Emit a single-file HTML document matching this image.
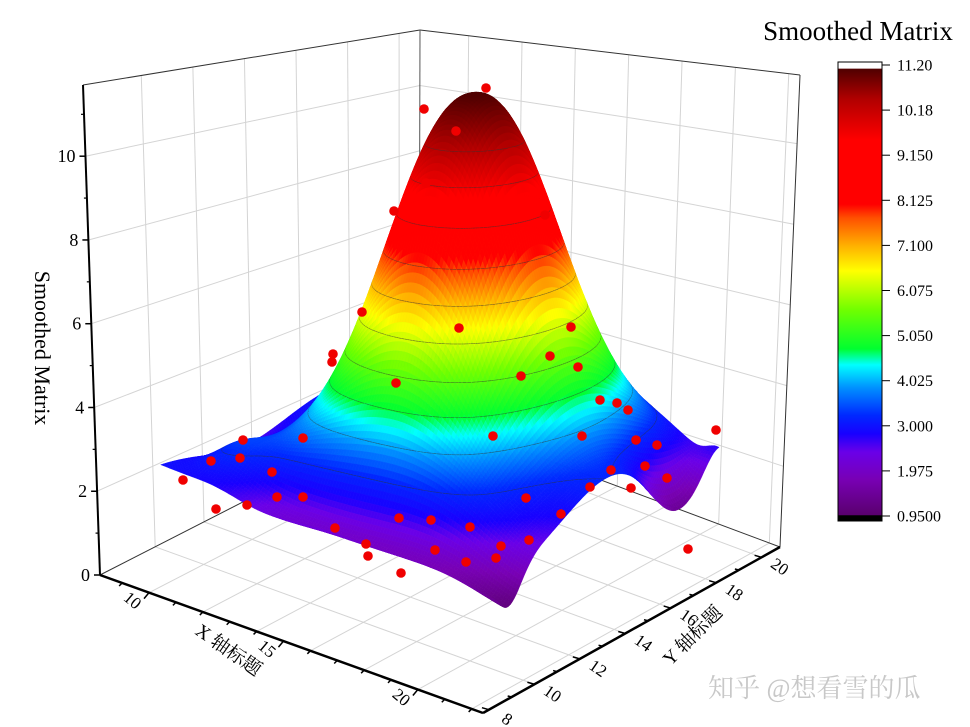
<!DOCTYPE html>
<html><head><meta charset="utf-8">
<style>
html,body{margin:0;padding:0;background:#fff;}
#c{position:relative;width:970px;height:727px;overflow:hidden;font-family:"Liberation Serif","Noto Serif CJK SC",serif;}
svg text{font-family:"Liberation Serif","Noto Serif CJK SC",serif;}
</style></head><body>
<div id="c">
<svg id="s" width="970" height="727" viewBox="0 0 970 727" xmlns="http://www.w3.org/2000/svg">
<defs>
<linearGradient id="cb" x1="0" y1="1" x2="0" y2="0">
<stop offset="0" stop-color="#000000"/>
<stop offset="0.012" stop-color="#000000"/>
<stop offset="0.013" stop-color="#5a006e"/>
<stop offset="0.09" stop-color="#7800b4"/>
<stop offset="0.15" stop-color="#6a00e8"/>
<stop offset="0.19" stop-color="#1800ff"/>
<stop offset="0.23" stop-color="#0028ff"/>
<stop offset="0.29" stop-color="#0090ff"/>
<stop offset="0.34" stop-color="#00ffff"/>
<stop offset="0.375" stop-color="#00ff30"/>
<stop offset="0.46" stop-color="#70ff00"/>
<stop offset="0.545" stop-color="#ffff00"/>
<stop offset="0.6" stop-color="#ffb000"/>
<stop offset="0.66" stop-color="#ff5000"/>
<stop offset="0.69" stop-color="#ff0000"/>
<stop offset="0.83" stop-color="#ff0000"/>
<stop offset="0.92" stop-color="#b00000"/>
<stop offset="0.985" stop-color="#500000"/>
<stop offset="0.986" stop-color="#ffffff"/>
<stop offset="1" stop-color="#ffffff"/>
</linearGradient>
</defs>
<g id="grid"></g>
<g id="surf"></g>
<g id="dots"></g>
<g id="axes"></g>
<rect x="838" y="62" width="44" height="459" fill="url(#cb)" stroke="#000" stroke-width="1"/>
<text x="858" y="40" font-size="27" text-anchor="middle">Smoothed Matrix</text>
<g font-size="16" id="cbt"></g>
<text transform="translate(35,348) rotate(90)" font-size="22" text-anchor="middle">Smoothed Matrix</text>
<text transform="translate(225,655) rotate(35)" font-size="19" text-anchor="middle" font-family="Liberation Serif,Noto Sans CJK SC,serif">X 轴标题</text>
<text transform="translate(697,640) rotate(-45)" font-size="19" text-anchor="middle" font-family="Liberation Serif,Noto Sans CJK SC,serif">Y 轴标题</text>
<text x="708" y="697" font-size="26" fill="#c8c8c8" font-family="Liberation Sans,Noto Sans CJK SC,sans-serif">知乎 @想看雪的瓜</text>
</svg>
</div>
<script>
var NS="http://www.w3.org/2000/svg";
function el(p,t,a,txt){var e=document.createElementNS(NS,t);for(var k in a)e.setAttribute(k,a[k]);if(txt!==undefined)e.textContent=txt;p.appendChild(e);return e;}
var L=[100,575],F=[483,713],B=[419,412],R=[780,547];
var ZM=11.7;
var Lz=[-17/ZM,-490/ZM],Fz=[9/ZM,-580/ZM],Bz=[1/ZM,-382/ZM],Rz=[20/ZM,-472/ZM];
function bl(A,Bf,C,D,u,v,i){return A[i]*(1-u)*(1-v)+Bf[i]*u*(1-v)+C[i]*(1-u)*v+D[i]*u*v;}
function P(u,v,z){return [bl(L,F,B,R,u,v,0)+z*bl(Lz,Fz,Bz,Rz,u,v,0), bl(L,F,B,R,u,v,1)+z*bl(Lz,Fz,Bz,Rz,u,v,1)];}
function f2(p){return p[0].toFixed(1)+","+p[1].toFixed(1);}
var grid=document.getElementById("grid"),axes=document.getElementById("axes");
var gc="#d4d4d4";
function xu(x){return 0.128+(x-10)*0.0702;}
function yv(y){return 0.02+(y-8)*0.0765;}
for(var z=2;z<=10;z+=2){
 el(grid,"polyline",{points:f2(P(0,0,z))+" "+f2(P(0,1,z))+" "+f2(P(1,1,z)),fill:"none",stroke:gc,"stroke-width":1});
}
[10,12,14,16,18,20,22].forEach(function(x){var u=xu(x);
 el(grid,"line",{x1:P(u,1,0)[0],y1:P(u,1,0)[1],x2:P(u,1,ZM)[0],y2:P(u,1,ZM)[1],stroke:gc});
 el(grid,"line",{x1:P(u,0,0)[0],y1:P(u,0,0)[1],x2:P(u,1,0)[0],y2:P(u,1,0)[1],stroke:gc});
});
[10,12,14,16,18,20].forEach(function(y){var v=yv(y);
 el(grid,"line",{x1:P(0,v,0)[0],y1:P(0,v,0)[1],x2:P(0,v,ZM)[0],y2:P(0,v,ZM)[1],stroke:gc});
 el(grid,"line",{x1:P(0,v,0)[0],y1:P(0,v,0)[1],x2:P(1,v,0)[0],y2:P(1,v,0)[1],stroke:gc});
});
function ln(g,a,b,w,c){el(g,"line",{x1:a[0],y1:a[1],x2:b[0],y2:b[1],stroke:c||"#333","stroke-width":w||1});}
ln(grid,P(0,0,ZM),P(0,1,ZM));ln(grid,P(0,1,ZM),P(1,1,ZM));
ln(grid,P(0,1,0),P(0,1,ZM),1,"#555");ln(grid,P(1,1,0),P(1,1,ZM));
ln(grid,P(0,0,0),P(0,1,0));ln(grid,P(0,1,0),P(1,1,0));
var stops=[[0.95,[90,0,110]],[1.6,[120,0,180]],[2.1,[106,0,232]],[2.45,[24,0,255]],[2.95,[0,40,255]],[3.5,[0,144,255]],[3.95,[0,255,255]],[4.3,[0,255,48]],[5.2,[112,255,0]],[6.1,[255,255,0]],[6.7,[255,176,0]],[7.3,[255,80,0]],[7.6,[255,0,0]],[9.0,[255,0,0]],[10.1,[176,0,0]],[11.2,[80,0,0]]];
function cmap(z){if(z<=stops[0][0])return stops[0][1];for(var i=1;i<stops.length;i++){if(z<=stops[i][0]){var a=stops[i-1],b=stops[i],t=(z-a[0])/(b[0]-a[0]);return [0,1,2].map(function(k){return Math.round(a[1][k]+(b[1][k]-a[1][k])*t);});}}return stops[stops.length-1][1];}
function vmin(u){return 0.08+0.12*(u-0.1)/0.78;}
function fz(u,v){
 var du=(u-0.48)/0.15,dv=(v-0.6)/0.18;var r2=(du*du+dv*dv)/2;
 var pk=8.5*Math.exp(-Math.pow(r2,1.15)*0.9);
 var b=2.35+0.3*Math.sin(14*u+1)*Math.cos(11*v)+0.2*Math.sin(9*v+3*u);
 var dvf=v-vmin(u)-0.03;
 var sm=1/(1+Math.exp(-(u-0.3)*25));
 b-=0.9*Math.exp(-(dvf*dvf/0.004))*sm;
 b-=0.9*Math.exp(-((u-0.88)*(u-0.88)/0.004+(v-0.78)*(v-0.78)/0.012));
 b+=0.5*Math.exp(-((u-0.88)*(u-0.88)/0.002+(v-0.92)*(v-0.92)/0.003));
 b+=0.4*Math.exp(-((u-0.2)*(u-0.2)/0.004+(v-0.2)*(v-0.2)/0.006));
 return pk+b;}
var U0=0.1,U1=0.88,V1=0.93,N=120;
function uvAt(i,j){var u=U0+(U1-U0)*i/N;var v0=vmin(u);return [u,v0+(V1-v0)*j/N];}
var levels=[2.9,3.6,4.3,5.0,5.8,6.6,7.4,8.3,9.2,10.0];
var quads=[];
function interp(a,b,za,zb,l){var t=(l-za)/(zb-za);return [a[0]+(b[0]-a[0])*t,a[1]+(b[1]-a[1])*t];}
var Z=[],UV=[];for(var i=0;i<=N;i++){Z[i]=[];UV[i]=[];for(var j=0;j<=N;j++){var q=uvAt(i,j);UV[i][j]=q;Z[i][j]=fz(q[0],q[1]);}}
for(var i=0;i<N;i++)for(var j=0;j<N;j++){
 var c=[UV[i][j],UV[i+1][j],UV[i+1][j+1],UV[i][j+1]];
 var zs=[Z[i][j],Z[i+1][j],Z[i+1][j+1],Z[i][j+1]];
 var pts=c.map(function(q,k){return P(q[0],q[1],zs[k]);});
 var zm=(zs[0]+zs[1]+zs[2]+zs[3])/4;
 var segs=[];
 levels.forEach(function(l){var cr=[];for(var e=0;e<4;e++){var a=zs[e],b=zs[(e+1)%4];if((a-l)*(b-l)<0)cr.push(interp(pts[e],pts[(e+1)%4],a,b,l));}
  if(cr.length>=2)segs.push([cr[0],cr[1]]);});
 var uc=(c[0][0]+c[2][0])/2,vc=(c[0][1]+c[2][1])/2;
 quads.push({d:vc-uc,p:pts,z:zm,segs:segs});
}
quads.sort(function(a,b){return b.d-a.d;});
var html=[];
quads.forEach(function(q){var col="rgb("+cmap(q.z).join(",")+")";
 html.push('<polygon points="'+q.p.map(f2).join(" ")+'" fill="'+col+'" stroke="'+col+'" stroke-width="0.4"/>');
 q.segs.forEach(function(s){html.push('<line x1="'+s[0][0].toFixed(1)+'" y1="'+s[0][1].toFixed(1)+'" x2="'+s[1][0].toFixed(1)+'" y2="'+s[1][1].toFixed(1)+'" stroke="#333" stroke-opacity="0.6" stroke-width="0.7"/>');});
});
document.getElementById("surf").innerHTML=html.join("");
var dots=[[486,88],[424,109],[456,131],[426,183],[394,211],[545,215],[362,312],[459,328],[571,327],[333,354],[332,362],[550,356],[396,383],[521,376],[578,367],[600,400],[617,403],[628,410],[493,436],[582,436],[303,438],[716,430],[636,440],[657,445],[611,470],[645,466],[667,478],[631,488],[590,487],[526,498],[303,497],[335,528],[399,518],[431,520],[470,527],[561,514],[366,544],[368,556],[435,550],[466,562],[496,558],[501,546],[529,540],[401,573],[688,549],[183,480],[211,461],[243,440],[240,458],[216,509],[247,505],[272,472],[277,497]];
var dg=document.getElementById("dots");dots.forEach(function(d){el(dg,"circle",{cx:d[0],cy:d[1],r:4.8,fill:"#f00000"});});
ln(axes,P(0,0,0),P(0,0,ZM),2,"#000");
ln(axes,P(0,0,0),P(1,0,0),2.5,"#000");
ln(axes,P(1,0,0),P(1,1,0),2.5,"#000");
for(var z=0;z<=10;z+=2){var p=P(0,0,z);ln(axes,p,[p[0]-6,p[1]],1.5,"#000");
 el(axes,"text",{x:p[0]-10,y:p[1]+6,"font-size":18,"text-anchor":"end"},String(z));}
for(var z=1;z<=11;z+=2){var p=P(0,0,z);ln(axes,p,[p[0]-3,p[1]],1.2,"#000");}
for(var x=9;x<=22;x++){var u=xu(x);if(u<0||u>1)continue;var p=P(u,0,0);var big=(x%5==0);
 ln(axes,p,[p[0]-(big?5:3),p[1]+(big?6:3)],1.5,"#000");
 if(big){el(axes,"text",{transform:"translate("+(p[0]-20)+","+(p[1]+12)+") rotate(40)","font-size":17,"text-anchor":"middle"},String(x));}}
for(var y=8;y<=20;y++){var v=yv(y);var p=P(1,v,0);var big=(y%2==0);
 ln(axes,p,[p[0]-(big?7:4),p[1]-(big?2:1)],1.5,"#000");
 if(big){el(axes,"text",{transform:"translate("+(p[0]+15)+","+(p[1]+14)+") rotate(35)","font-size":17,"text-anchor":"middle"},String(y));}}
var cbt=document.getElementById("cbt");
var labs=["11.20","10.18","9.150","8.125","7.100","6.075","5.050","4.025","3.000","1.975","0.9500"];
for(var k=0;k<11;k++){var yy=65+k*(516-65)/10;ln(cbt,[882,yy],[890,yy],1,"#000");el(cbt,"text",{x:897,y:yy+5.5,"font-size":16},labs[k]);}
</script>
</body></html>
